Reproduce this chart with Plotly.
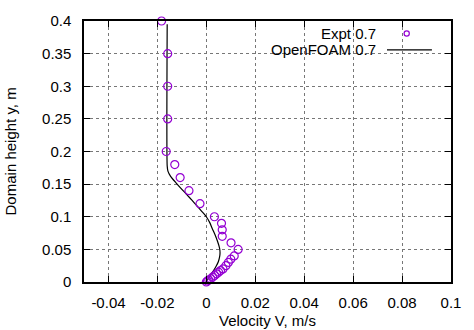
import plotly.graph_objects as go

# Experimental velocity profile (V in m/s against height y in m)
expt_v = [-0.0183, -0.0158, -0.0158, -0.0158, -0.0164, -0.0129, -0.0107, -0.0071,
          -0.0026, 0.0033, 0.0062, 0.0065, 0.0065, 0.0101, 0.0130, 0.0114, 0.0100,
          0.0090, 0.0080, 0.0068, 0.0058, 0.0050, 0.0042, 0.0034, 0.0026, 0.0018,
          0.0010, 0.0004, 0.0]
expt_y = [0.40, 0.35, 0.30, 0.25, 0.20, 0.18, 0.16, 0.14, 0.12, 0.10, 0.09, 0.08,
          0.07, 0.06, 0.05, 0.04, 0.035, 0.03, 0.025, 0.02, 0.0175, 0.015, 0.0125,
          0.01, 0.0075, 0.005, 0.003, 0.0015, 0.0]

# OpenFOAM simulated profile
cfd_v = [-0.0160, -0.0160, -0.0157, -0.0146, -0.0124, -0.0100, -0.0080, -0.0058,
         -0.0039, -0.0018, 0.0, 0.0014, 0.0024, 0.0036, 0.0046, 0.0054, 0.0056,
         0.0054, 0.0049, 0.0040, 0.0029, 0.0016, 0.0006, 0.0]
cfd_y = [0.395, 0.178, 0.170, 0.162, 0.152, 0.142, 0.134, 0.125, 0.117, 0.108,
         0.100, 0.091, 0.082, 0.072, 0.062, 0.052, 0.045, 0.038, 0.031, 0.024,
         0.017, 0.010, 0.004, 0.0]

x_ticks = [-0.04, -0.02, 0, 0.02, 0.04, 0.06, 0.08, 0.1]
x_labels = ["-0.04", "-0.02", "0", "0.02", "0.04", "0.06", "0.08", "0.1"]
y_ticks = [0, 0.05, 0.1, 0.15, 0.2, 0.25, 0.3, 0.35, 0.4]
y_labels = ["0", "0.05", "0.1", "0.15", "0.2", "0.25", "0.3", "0.35", "0.4"]

PURPLE = "#9400D3"
FONT = "Liberation Sans, Arial, sans-serif"

fig = go.Figure()
fig.add_trace(go.Scatter(
    x=cfd_v, y=cfd_y, mode="lines", name="OpenFOAM 0.7",
    line=dict(color="black", width=1.2, shape="spline", smoothing=0.6),
    showlegend=False,
))
fig.add_trace(go.Scatter(
    x=expt_v, y=expt_y, mode="markers", name="Expt 0.7",
    marker=dict(symbol="circle-open", size=8, color=PURPLE, line=dict(width=1.2)),
    cliponaxis=False, showlegend=False,
))

axis_common = dict(
    showline=True, linecolor="black", linewidth=1.5, mirror="ticks",
    ticks="inside", ticklen=6, tickwidth=1.2, tickcolor="black",
    showgrid=True, gridcolor="#777777", griddash="dot", gridwidth=1,
    zeroline=False, tickfont=dict(family=FONT, size=15, color="black"),
)

fig.update_xaxes(range=[-0.05, 0.1], tickmode="array", tickvals=x_ticks,
                 ticktext=x_labels, ticklabelstandoff=6, **axis_common)
fig.update_yaxes(range=[0, 0.4], tickmode="array", tickvals=y_ticks,
                 ticktext=y_labels, ticklabelstandoff=8, **axis_common)

# key box in gnuplot style: text right-aligned, sample to the right
fig.add_shape(type="rect", xref="paper", yref="paper", x0=0.496, x1=0.970,
              y0=0.859, y1=0.976, fillcolor="white", line=dict(width=0),
              layer="between")
fig.add_shape(type="line", xref="paper", yref="paper", x0=0.8256, x1=0.948,
              y0=0.889, y1=0.889, line=dict(color="black", width=1.2))
fig.add_shape(type="circle", xref="paper", yref="paper", xsizemode="pixel",
              ysizemode="pixel", xanchor=0.8793, yanchor=0.952,
              x0=-2.6, x1=2.6, y0=-2.6, y1=2.6, line=dict(color=PURPLE, width=1.2))

annots = [
    dict(text="Expt 0.7", x=0.801, y=0.952, xanchor="right", yanchor="middle"),
    dict(text="OpenFOAM 0.7", x=0.801, y=0.889, xanchor="right", yanchor="middle"),
    dict(text="Velocity V, m/s", x=0.5, y=-0.147, xanchor="center", yanchor="middle"),
    dict(text="Domain height y, m", x=-0.199, y=0.5, xanchor="center",
         yanchor="middle", textangle=-90),
]
for a in annots:
    fig.add_annotation(xref="paper", yref="paper", showarrow=False,
                       font=dict(family=FONT, size=15, color="black"), **a)

fig.update_layout(
    width=474, height=330,
    margin=dict(l=84, r=23, t=12, b=48),
    paper_bgcolor="white", plot_bgcolor="white",
    font=dict(family=FONT, size=15, color="black"),
)

fig.write_html("out.html")
